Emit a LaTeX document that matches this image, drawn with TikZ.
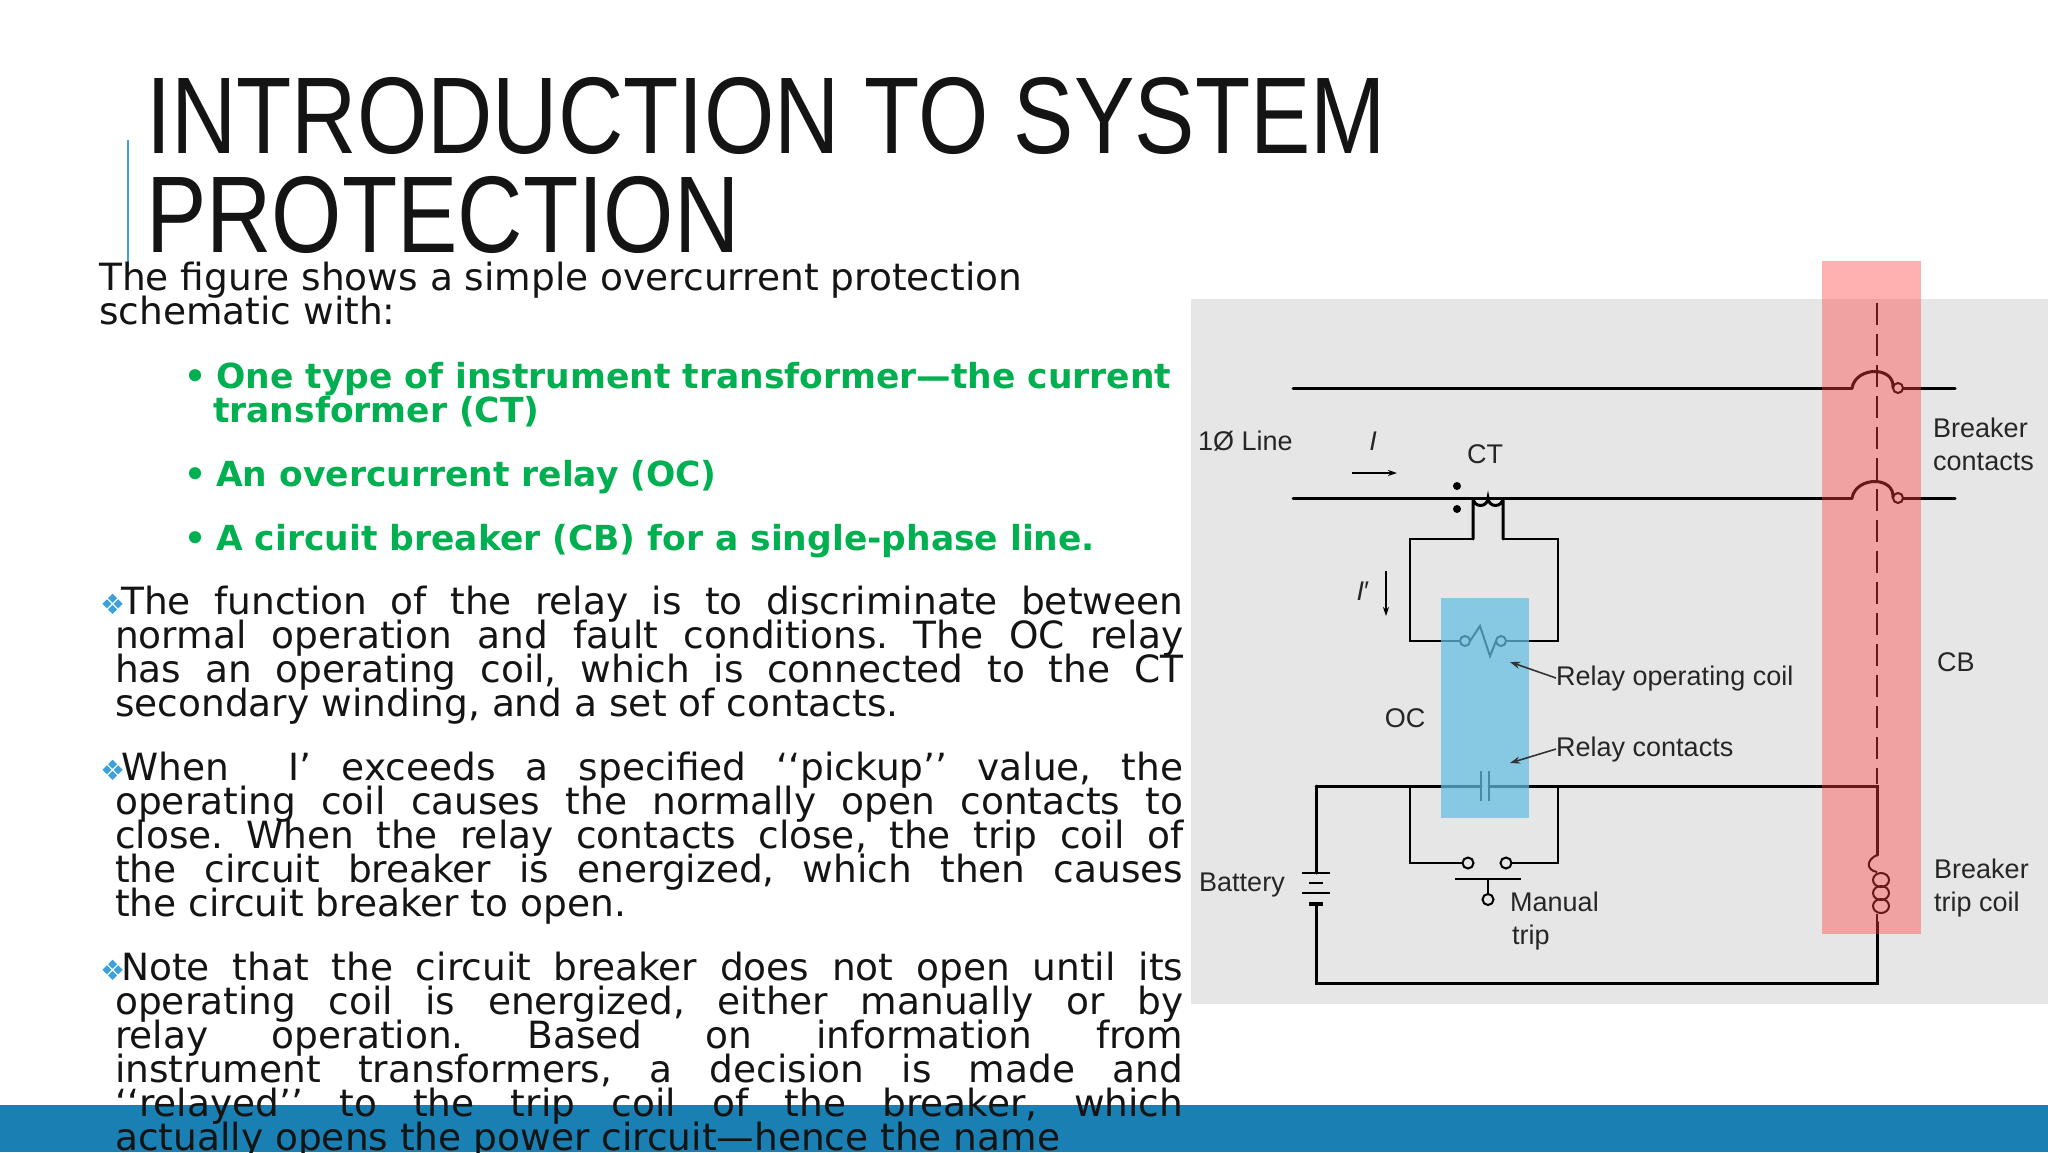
\documentclass[tikz,border=0pt]{standalone}
\usepackage{fontspec}
\setmainfont{DejaVu Sans}
\newfontfamily\titlefont{Liberation Sans}
\newfontfamily\diafont{Liberation Sans}
\newfontfamily\symfont{DejaVu Sans}
\usetikzlibrary{arrows.meta}
\definecolor{bggray}{RGB}{230,230,230}
\definecolor{redov}{RGB}{255,60,60}
\definecolor{blueov}{RGB}{100,189,227}
\definecolor{grn}{RGB}{0,176,80}
\definecolor{dia}{RGB}{60,160,220}
\definecolor{bar}{RGB}{26,127,178}
\definecolor{txt}{RGB}{20,20,20}
\tikzset{
  wire/.style={line width=3pt, black, line cap=round},
  thin/.style={line width=2pt, black},
  lbl/.style={font=\diafont\fontsize{27}{30}\selectfont, inner sep=0pt, text=black!85},
  lead/.style={line width=1.6pt, -{Stealth[length=10pt,width=7pt]}, black!80},
  body/.style={text=txt, inner sep=0pt, anchor=base west}
}
\newcommand{\bsize}{\fontsize{37.5}{34}\selectfont\frenchspacing\lineskiplimit=-100pt\lineskip=0pt}
\newcommand{\gsize}{\fontsize{34.5}{34}\selectfont\bfseries\lineskiplimit=-100pt\lineskip=0pt}
\newcommand{\dmd}{{\color{dia}\symfont\fontsize{28}{30}\selectfont ❖}}
\newcommand{\para}[1]{\parbox[t]{1068pt}{\bsize\noindent\hspace*{-15pt}\makebox[21pt][l]{\dmd}#1}}
\begin{document}
\begin{tikzpicture}[x=1pt,y=-1pt]
\useasboundingbox (0,0) rectangle (2048,1152);
\fill[white] (0,0) rectangle (2048,1152);
% bottom bar
\fill[bar] (0,1105) rectangle (2048,1152);
% title
\draw[line width=2.5pt, dia] (128,140) -- (128,268);
\node[anchor=base west, inner sep=0pt, font=\titlefont\fontsize{109}{109}\selectfont, text=txt] (t1) at (146,153) {\scalebox{0.83}[1]{INTRODUCTION TO SYSTEM}};
\node[anchor=base west, inner sep=0pt, font=\titlefont\fontsize{109}{109}\selectfont, text=txt] (t2) at (146,252) {\scalebox{0.83}[1]{PROTECTION}};
% body text
\node[body] (p0) at (99,290) {\parbox[t]{1200pt}{\bsize The figure shows a simple overcurrent protection\\schematic with:}};
\node[body, text=grn] (b1) at (184,388) {\parbox[t]{1100pt}{\gsize\textbullet\hspace{10pt}One type of instrument transformer—the current\\\hspace*{29pt}transformer (CT)}};
\node[body, text=grn] (b2) at (184,486) {\gsize\textbullet\hspace{10pt}An overcurrent relay (OC)};
\node[body, text=grn] (b3) at (184,550) {\gsize\textbullet\hspace{10pt}A circuit breaker (CB) for a single-phase line.};
\node[body] (p1) at (115,614) {\para{The function of the relay is to discriminate between\linebreak normal operation and fault conditions. The OC relay\linebreak has an operating coil, which is connected to the CT\linebreak secondary winding, and a set of contacts.}};
\node[body] (p2) at (115,780) {\para{When\ \ I’ exceeds a specified ‘‘pickup’’ value, the\linebreak operating coil causes the normally open contacts to\linebreak close. When the relay contacts close, the trip coil of\linebreak the circuit breaker is energized, which then causes\linebreak the circuit breaker to open.}};
\node[body] (p3) at (115,980) {\para{Note that the circuit breaker does not open until its\linebreak operating coil is energized, either manually or by\linebreak relay operation. Based on information from\linebreak instrument transformers, a decision is made and\linebreak ‘‘relayed’’ to the trip coil of the breaker, which\linebreak actually opens the power circuit—hence the name}};
% diagram background
\fill[bggray] (1191,299) rectangle (2048,1004);
% power lines
\draw[wire] (1293,388) -- (1852,388);
\draw[wire] (1903,388) -- (1955,388);
\draw[wire] (1293,498) -- (1852,498);
\draw[wire] (1903,498) -- (1955,498);
\foreach \yy in {388,498}{
  \draw[wire] (1852,\yy) .. controls (1856,\yy-22) and (1895,\yy-22) .. (1893,\yy);
  \draw[thin, fill=bggray] (1898,\yy) circle (5);
}
% dashed CB link
\draw[line width=2.4pt, dash pattern=on 22pt off 9pt] (1877,303) -- (1877,784);
% CT
\fill (1457,486) circle (4); \fill (1457,509) circle (4);
\draw[wire] (1473,539) -- (1473,498) arc (180:0:7.5) arc (180:0:7.5) -- (1503,539);
\draw[thin] (1473,539) -- (1410,539) -- (1410,641) -- (1459,641);
\draw[thin] (1503,539) -- (1558,539) -- (1558,641) -- (1507,641);
% relay coil
\draw[thin] (1465,641) circle (5);
\draw[thin] (1470,641) -- (1480,626) -- (1490,656) -- (1496,641);
\draw[thin] (1501,641) circle (5);
% lower circuit
\draw[wire] (1316,786) -- (1481,786);
\draw[wire] (1489,786) -- (1877,786) -- (1877,855);
\draw[line width=2.8pt] (1481,771) -- (1481,801);
\draw[line width=2.8pt] (1489,771) -- (1489,801);
\draw[thin] (1410,786) -- (1410,863) -- (1462,863);
\draw[thin] (1558,786) -- (1558,863) -- (1512,863);
\draw[thin] (1468,863) circle (5.5);
\draw[thin] (1506,863) circle (5.5);
\draw[thin] (1455,879) -- (1521,879);
\draw[thin] (1488,879) -- (1488,894);
\draw[thin] (1488,899.5) circle (5.5);
% battery
\draw[wire] (1316,786) -- (1316,873);
\draw[line width=2.4pt] (1302,873) -- (1330,873);
\draw[line width=2.4pt] (1309,883) -- (1323,883);
\draw[line width=2.4pt] (1302,893) -- (1330,893);
\draw[line width=3.6pt] (1309,904) -- (1323,904);
\draw[wire] (1316,904) -- (1316,983) -- (1877,983) -- (1877,922);
% trip coil
\draw[thin] (1877,855) .. controls (1866,860) and (1866,870) .. (1877,872);
\foreach \yy in {880,893,906}{\draw[thin] (1881,\yy) ellipse (8 and 7);}
\draw[thin] (1877,914) -- (1877,922);
% overlays
\fill[redov, opacity=0.4] (1822,261) rectangle (1921,934);
\fill[blueov, opacity=0.73] (1441,598) rectangle (1529,818);
% labels
\node[lbl, anchor=base west] (line) at (1198,450) {1Ø Line};
\node[lbl, anchor=base] (ii) at (1373,450) {\textit{I}};
\draw[line width=1.8pt, -{Stealth[length=9pt,width=6pt]}] (1352,473) -- (1397,473);
\node[lbl, anchor=base] (ct) at (1485,463) {CT};
\node[lbl, anchor=base] (ip) at (1363,600) {\textit{I}′};
\draw[line width=1.6pt, -{Stealth[length=9pt,width=6pt]}] (1386,571) -- (1386,616);
\node[lbl, anchor=base west] (bc1) at (1933,437) {Breaker};
\node[lbl, anchor=base west] (bc2) at (1933,470) {contacts};
\node[lbl, anchor=base west] (cb) at (1937,671) {CB};
\node[lbl, anchor=base west] (roc) at (1556,685) {Relay operating coil};
\draw[lead] (roc.west) -- (1510,662);
\node[lbl, anchor=base] (oc) at (1405,727) {OC};
\node[lbl, anchor=base west] (rc) at (1556,756) {Relay contacts};
\draw[lead] (rc.west) -- (1510,763);
\node[lbl, anchor=base west] (bat) at (1199,891) {Battery};
\node[lbl, anchor=base west] (mt1) at (1510,911) {Manual};
\node[lbl, anchor=base west] (mt2) at (1512,944) {trip};
\node[lbl, anchor=base west] (tc1) at (1934,878) {Breaker};
\node[lbl, anchor=base west] (tc2) at (1934,911) {trip coil};
\end{tikzpicture}
\end{document}
